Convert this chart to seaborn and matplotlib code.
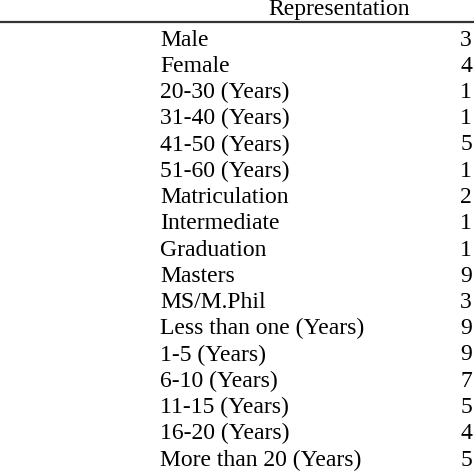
import matplotlib
matplotlib.use("Agg")
import matplotlib.pyplot as plt
import seaborn as sns

header = "Representation"
categories = ["Male", "Female", "20-30 (Years)", "31-40 (Years)", "41-50 (Years)",
              "51-60 (Years)", "Matriculation", "Intermediate", "Graduation",
              "Masters", "MS/M.Phil", "Less than one (Years)", "1-5 (Years)",
              "6-10 (Years)", "11-15 (Years)", "16-20 (Years)", "More than 20 (Years)"]
values = ["3", "4", "1", "1", "5", "1", "2", "1", "1", "9", "3", "9", "9", "7", "5", "4", "5"]

sns.set_theme(style="white")
plt.rcParams['font.family'] = ['Liberation Serif', 'DejaVu Serif']

fig = plt.figure(figsize=(4.74, 4.74), dpi=100)
ax = fig.add_axes([0, 0, 1, 1])
ax.set_xlim(0, 474)
ax.set_ylim(474, 0)
ax.axis("off")

fs = 17
ax.text(339, 9, header, ha="center", va="center", fontsize=fs, color="black")
ax.plot([0, 474], [22, 22], color="#333333", lw=1.6)
for i, (c, v) in enumerate(zip(categories, values)):
    y = 40 + i * 26.25
    ax.text(160, y, c, ha="left", va="center", fontsize=fs, color="black")
    ax.text(472, y, v, ha="right", va="center", fontsize=fs, color="black")

fig.savefig("out.png", dpi=100)
